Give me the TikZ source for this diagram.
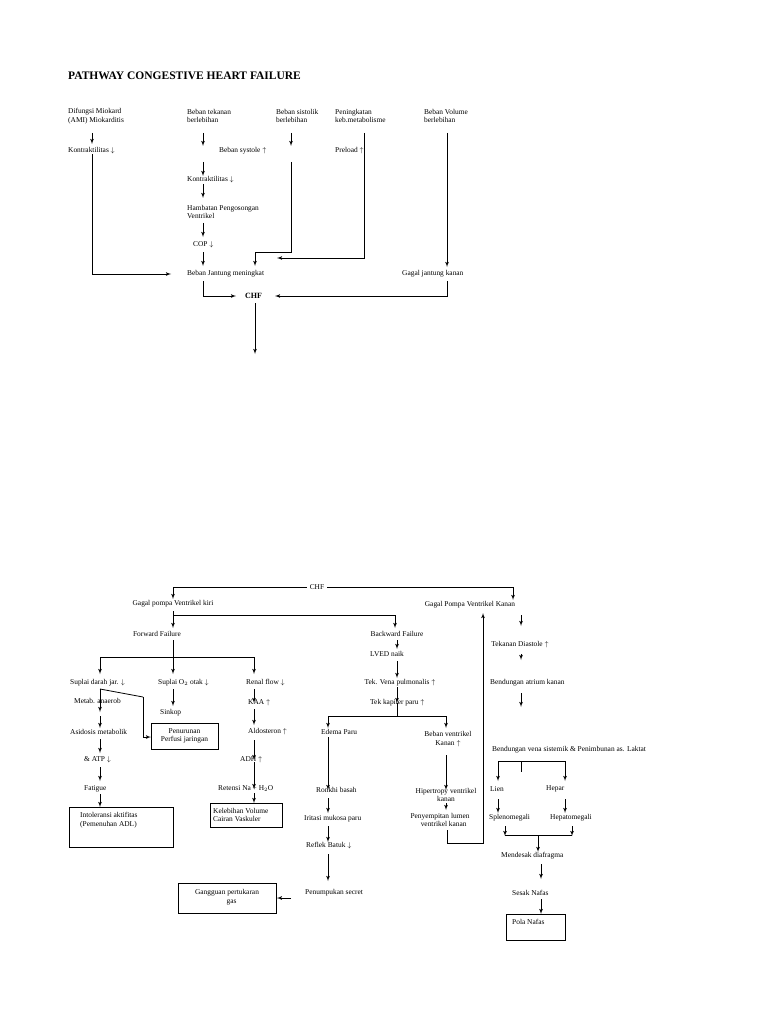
\documentclass[tikz,border=0pt]{standalone}
\usepackage{fontspec}
\setmainfont{Liberation Serif}
\usetikzlibrary{arrows}
\begin{document}
\begin{tikzpicture}[x=1pt,y=-1pt]
\tikzset{
  t/.style={anchor=west,inner sep=0pt,font=\fontsize{7.4}{8.6}\selectfont,align=left},
  tc/.style={inner sep=0pt,font=\fontsize{7.4}{8.6}\selectfont,align=center},
  bx/.style={draw,thick,anchor=north west,inner sep=0pt},
  a/.style={->,>=latex',thick},
  l/.style={thick}
}
\useasboundingbox (0,0) rectangle (768,1024);
% ---------- top part ----------
\node[anchor=west,inner sep=0pt,font=\fontsize{11.5}{13}\selectfont\bfseries] (title) at (68,76) {PATHWAY CONGESTIVE HEART FAILURE};
\node[t] (dif) at (68,116) {Difungsi Miokard\\(AMI) Miokarditis};
\node[t] (btk) at (187,116) {Beban tekanan\\berlebihan};
\node[t] (bsi) at (276,116) {Beban sistolik\\berlebihan};
\node[t] (pkm) at (335,116) {Peningkatan\\keb.metabolisme};
\node[t] (bvo) at (424,116) {Beban Volume\\berlebihan};
\node[t] (ko1) at (68,151) {Kontraktilitas $\downarrow$};
\node[t] (bsy) at (219,151) {Beban systole $\uparrow$};
\node[t] (pre) at (335,151) {Preload $\uparrow$};
\node[t] (ko2) at (187,180) {Kontraktilitas $\downarrow$};
\node[t] (hbp) at (187,212) {Hambatan Pengosongan\\Ventrikel};
\node[t] (cop) at (193,245) {COP $\downarrow$};
\node[t] (bjm) at (187,274) {Beban Jantung meningkat};
\node[t] (gjk) at (402,274) {Gagal jantung kanan};
\node[anchor=west,inner sep=0pt,font=\fontsize{8}{9}\selectfont\bfseries] (chf1) at (245,296) {CHF};
\coordinate (chfend) at (255,354);

\draw[a] (92,133) -- (92,144);
\draw[a] (203,133) -- (203,146);
\draw[a] (291,133) -- (291,146);
\draw[a] (203,162) -- (203,176);
\draw[a] (203,184) -- (203,198);
\draw[a] (203,223) -- (203,237);
\draw[a] (203,252) -- (203,266);
\draw[a] (ko1.south -| 92,0) -- (92,274) -- (171,274);
\draw[a] (291,162) -- (291,252) -- (255,252) -- (255,266);
\draw[a] (364,133) -- (364,258) -- (277,258);
\draw[a] (447,133) -- (447,267);
\draw[a] (203,281) -- (203,296) -- (236,296);
\draw[a] (447,281) -- (447,296) -- (275,296);
\draw[a] (255,303) -- (chfend);

% ---------- bottom part ----------
\node[tc] (chf2) at (317,587) {CHF};
\node[tc] (gpki) at (173,604) {Gagal pompa Ventrikel kiri};
\node[tc] (gpka) at (470,605) {Gagal Pompa Ventrikel Kanan};
\node[tc] (ff) at (157,634) {Forward Failure};
\node[tc] (bf) at (397,634) {Backward Failure};
\node[t] (lved) at (370,654) {LVED naik};
\node[t] (sdj) at (70,683) {Suplai darah jar. $\downarrow$};
\node[t] (sot) at (158,683) {Suplai O$_2$ otak $\downarrow$};
\node[t] (rf) at (246,683) {Renal flow $\downarrow$};
\node[tc] (tvp) at (400,683) {Tek. Vena pulmonalis $\uparrow$};
\node[t] (ma) at (74,701) {Metab. anaerob};
\node[t] (kaa) at (248,703) {KAA $\uparrow$};
\node[t] (tkp) at (370,703) {Tek kapiler paru $\uparrow$};
\node[t] (snk) at (160,713) {Sinkop};
\node[bx,minimum width=67pt,minimum height=26pt] (ppj) at (151,723) {};
\node[tc] at (184.5,736) {Penurunan\\Perfusi jaringan};
\node[t] (asm) at (70,732) {Asidosis metabolik};
\node[t] (ald) at (248,732) {Aldosteron $\uparrow$};
\node[t] (edp) at (321,732) {Edema Paru};
\node[tc] (bvk) at (448,739) {Beban ventrikel\\Kanan $\uparrow$};
\node[t] (atp) at (84,760) {\& ATP $\downarrow$};
\node[t] (adh) at (240,760) {ADH $\uparrow$};
\node[t] (fat) at (84,789) {Fatigue};
\node[t] (ret) at (218,789) {Retensi Na + H$_2$O};
\node[t] (ron) at (316,790) {Ronkhi basah};
\node[tc] (hvk) at (446,795) {Hipertropy ventrikel\\kanan};
\node[bx,minimum width=72pt,minimum height=24pt] (kvc) at (210,803) {};
\node[t] at (213,815) {Kelebihan Volume\\Cairan Vaskuler};
\node[bx,minimum width=104pt,minimum height=40pt] (iak) at (69,807) {};
\node[t] at (80,820) {Intoleransi aktifitas\\(Pemenuhan ADL)};
\node[t] (imp) at (304,819) {Iritasi mukosa paru};
\node[tc] (plv) at (440,820) {Penyempitan lumen\\\ \ \ \ ventrikel kanan};
\node[t] (rbt) at (306,846) {Reflek Batuk $\downarrow$};
\node[t] (pse) at (305,893) {Penumpukan secret};
\node[bx,minimum width=98pt,minimum height=30pt] (gpg) at (178,883) {};
\node[tc] at (227,897) {Gangguan pertukaran\\\ \ \ \ \ gas};
\node[tc] (tds) at (520,645) {Tekanan Diastole $\uparrow$};
\node[t] (bak) at (490,683) {Bendungan atrium kanan};
\node[t] (bvs) at (492,750) {Bendungan vena sistemik \& Penimbunan as. Laktat};
\node[t] (lie) at (490,789) {Lien};
\node[t] (hep) at (546,789) {Hepar};
\node[t] (spl) at (489,818) {Splenomegali};
\node[t] (hpm) at (550,818) {Hepatomegali};
\node[t] (mdf) at (501,856) {Mendesak diafragma};
\node[t] (snf) at (512,893) {Sesak Nafas};
\node[bx,minimum width=59pt,minimum height=26pt] (pnf) at (506,914) {};
\node[t] at (512,922) {Pola Nafas};

% CHF split
\draw[a] (chf2.west) ++(-3,0) -- (173,587) -- (173,599);
\draw[a] (chf2.east) ++(3,0) -- (513,587) -- (513,600);
% left ventricle
\draw[a] (173,611) -- (173,615) -- (395,615) -- (395,628);
\draw[a] (173,615) -- (173,628);
\draw[l] (173,640) -- (173,657);
\draw[l] (100,657) -- (254,657);
\draw[a] (100,657) -- (100,674);
\draw[a] (173,657) -- (173,674);
\draw[a] (254,657) -- (254,674);
% forward: suplai darah
\draw[a] (100,689) -- (100,712);
\draw[a] (100,716) -- (100,728);
\draw[l] (100,689) -- (143,697);
\draw[a] (143,697) -- (143,737) -- (ppj.west |- 143,737);
\draw[a] (100,739) -- (100,753);
\draw[a] (100,767) -- (100,781);
\draw[a] (100,794) -- (iak.north -| 100,0);
% suplai O2
\draw[a] (173,689) -- (173,706);
% renal
\draw[a] (254,689) -- (254,703);
\draw[a] (254,709) -- (254,725);
\draw[a] (254,740) -- (254,760);
\draw[a] (254,762) -- (254,789);
\draw[a] (254,793) -- (kvc.north -| 254,0);
% backward
\draw[a] (397,640) -- (397,649);
\draw[a] (397,661) -- (397,678);
\draw[a] (397,687) -- (397,703);
\draw[l] (397,703) -- (397,716);
\draw[l] (328,716) -- (446,716);
\draw[a] (328,716) -- (328,728);
\draw[a] (446,716) -- (446,728);
\draw[a] (328,737) -- (328,790);
\draw[a] (328,798) -- (328,813);
\draw[a] (328,826) -- (328,842);
\draw[a] (328,854) -- (328,881);
\draw[a] (291,898) -- (gpg.east |- 291,898);
\draw[a] (446,755) -- (446,790);
\draw[a] (446,803) -- (446,810);
\draw[a] (447,830) -- (447,843) -- (483,843) -- (483,613);
% right ventricle
\draw[a] (521,615) -- (521,626);
\draw[a] (521,654) -- (521,660);
\draw[a] (521,693) -- (521,707);
\draw[l] (498,761) -- (565,761);
\draw[l] (521,761) -- (521,772);
\draw[a] (498,761) -- (498,781);
\draw[a] (565,761) -- (565,781);
\draw[a] (498,799) -- (498,813);
\draw[a] (565,799) -- (565,813);
\draw[a] (505,826) -- (505,836);
\draw[a] (572,826) -- (572,836);
\draw[l] (505,835) -- (572,835);
\draw[a] (538,835) -- (538,852);
\draw[a] (541,864) -- (541,879);
\draw[a] (541,899) -- (pnf.north -| 541,0);
\end{tikzpicture}
\end{document}
